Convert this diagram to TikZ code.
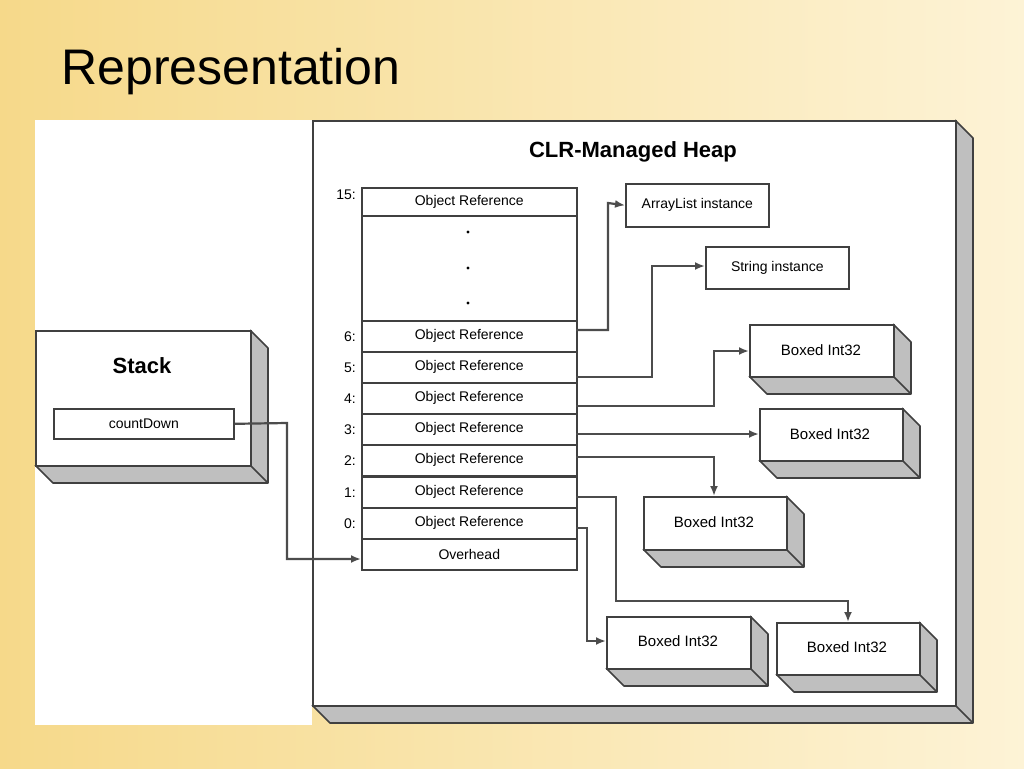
\documentclass[tikz,border=0pt]{standalone}
\usepackage{fontspec}
\usetikzlibrary{arrows.meta}
\setmainfont{Liberation Sans}
\definecolor{bgA}{HTML}{F6D98A}
\definecolor{bgB}{HTML}{FDF3D6}
\tikzset{
  cell/.style={draw=black!75,line width=1.6pt,fill=white,font=\fontsize{14}{14}\selectfont,inner sep=0pt},
  conn/.style={color=black!70,line width=2.2pt,arrows={-Latex[length=10pt,width=8pt]}},
  lbl/.style={anchor=east,font=\fontsize{14}{14}\selectfont,inner sep=0pt},
  bx/.style={font=\fontsize{15}{15}\selectfont}}
\begin{document}
\begin{tikzpicture}[x=1pt,y=-1pt]
\useasboundingbox (0,0) rectangle (1024,768);
\shade[left color=bgA, right color=bgB] (0,0) rectangle (1024,768);
\fill[white] (35,120) rectangle (312,725);
\node[anchor=west,font=\fontsize{50}{50}\selectfont] (title) at (58,72) {Representation};
\newcommand{\tdbox}[6]{%
  \fill[black!25] (#3,#2) -- (#3+#5,#2+#5) -- (#3+#5,#4+#5) -- (#1+#5,#4+#5) -- (#1,#4) -- (#3,#4) -- cycle;
  \draw[black!75,line width=1.6pt,line join=round] (#3,#2) -- (#3+#5,#2+#5) -- (#3+#5,#4+#5) -- (#1+#5,#4+#5) -- (#1,#4) (#3,#4) -- (#3+#5,#4+#5);
  \node[cell,minimum width=#3-#1,minimum height=#4-#2,anchor=north west] (#6) at (#1,#2) {};}
\tdbox{312}{120}{955}{705}{18}{heap}
\node[font=\bfseries\fontsize{22}{22}\selectfont] (heapt) at (633,152) {CLR-Managed Heap};
\tdbox{35}{330}{250}{465}{18}{stack}
\node[font=\bfseries\fontsize{22}{22}\selectfont] (stackt) at (142,366) {Stack};
\node[cell,minimum width=180,minimum height=30,anchor=north west] (cd) at (53,408) {countDown};
\node[cell,minimum width=215,minimum height=28,anchor=north west] (r15) at (361,187) {Object Reference};
\node[cell,minimum width=215,minimum height=105,anchor=north west] (dots) at (361,215) {};
\foreach \yy in {232,268,303} \fill (468,\yy) circle (1.6);
\foreach \i/\yy in {6/320,5/351,4/382,3/413,2/444,1/476,0/507}{
  \node[cell,minimum width=215,minimum height=31,anchor=north west] (r\i) at (361,\yy) {Object Reference};
  \node[lbl] (l\i) at (356,\yy+17) {\i:};}
\node[lbl] (l15) at (356,195) {15:};
\node[cell,minimum width=215,minimum height=31,anchor=north west] (ov) at (361,538) {Overhead};
\node[cell,minimum width=143,minimum height=43,anchor=north west] (al) at (625,183) {ArrayList instance};
\node[cell,minimum width=143,minimum height=42,anchor=north west] (si) at (705,246) {String instance};
\tdbox{749}{324}{893}{376}{18}{b1}\node[bx] at (821,350) {Boxed Int32};
\tdbox{759}{408}{902}{460}{18}{b2}\node[bx] at (830,434) {Boxed Int32};
\tdbox{643}{496}{786}{549}{18}{b3}\node[bx] at (714,522) {Boxed Int32};
\tdbox{606}{616}{750}{668}{18}{b4}\node[bx] at (678,641) {Boxed Int32};
\tdbox{776}{622}{919}{674}{18}{b5}\node[bx] at (847,647) {Boxed Int32};
\draw[conn] (576,330) -- (608,330) -- (608,203) -- (al.west);
\draw[conn] (576,377) -- (652,377) -- (652,266) -- (si.west |- 0,266);
\draw[conn] (576,406) -- (714,406) -- (714,351) -- (b1.west |- 0,351);
\draw[conn] (576,434) -- (b2.west |- 0,434);
\draw[conn] (576,457) -- (714,457) -- (714,496);
\draw[conn] (576,497) -- (616,497) -- (616,601) -- (848,601) -- (848,622);
\draw[conn] (576,528) -- (587,528) -- (587,641) -- (606,641);
\draw[conn] (cd.east) -- (287,423) -- (287,559) -- (ov.west |- 0,559);
\end{tikzpicture}
\end{document}
